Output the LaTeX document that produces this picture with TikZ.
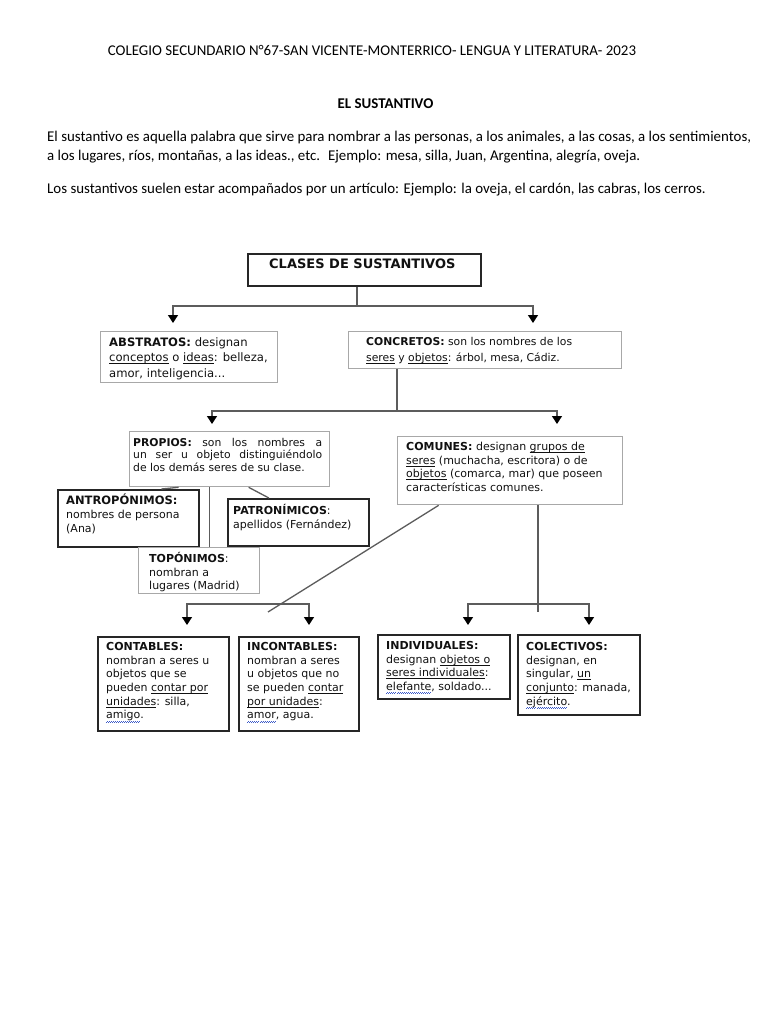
\documentclass[tikz,border=0pt]{standalone}
\usepackage{fontspec}
\setmainfont{Carlito}
\newfontfamily\comic{DejaVu Sans}
\usetikzlibrary{arrows.meta}

\definecolor{ink}{HTML}{111111}
\definecolor{linegray}{HTML}{5C5C5C}
\definecolor{boxdark}{HTML}{262626}
\definecolor{boxlight}{HTML}{A8A8A8}
\definecolor{spell}{HTML}{3C5AC8}

\newsavebox\ulbox
\newcommand\subr[1]{\sbox\ulbox{#1}\rlap{\rule[-2.2pt]{\wd\ulbox}{0.7pt}}\usebox\ulbox}
\newcommand\spellwave[1]{\sbox\ulbox{#1}\rlap{\color{spell}\hbox to \wd\ulbox{%
  \xleaders\hbox{\rule[-3.4pt]{1pt}{0.6pt}\rule[-2.6pt]{1pt}{0.6pt}}\hfil}}\usebox\ulbox}
\newcommand\diagfont{\comic\fontsize{11}{13.7}\selectfont}

\begin{document}
\begin{tikzpicture}[x=1pt, y=-1pt,
    conn/.style={draw=linegray, line width=1.3pt},
    arr/.style={conn, -{Triangle[width=10pt,length=8pt,color=black]}},
    darkbox/.style={draw=boxdark, line width=1.8pt, anchor=north west, inner sep=0pt},
    lightbox/.style={draw=boxlight, line width=1.3pt, anchor=north west, inner sep=0pt},
    boxtext/.style={anchor=north west, align=left, inner xsep=9pt, inner ysep=6pt, font=\diagfont, text=ink}
]
\fill[white] (0,0) rectangle (768,1024);
% --- Kopfzeile und Einleitung ---
\node[anchor=base, font=\fontsize{14.9}{17}\selectfont] (colegio) at (372,56)
  {COLEGIO SECUNDARIO N°67-SAN VICENTE-MONTERRICO- LENGUA Y LITERATURA- 2023};
\node[anchor=base, font=\bfseries\fontsize{14.9}{17}\selectfont] (titulo) at (385.5,109) {EL SUSTANTIVO};
\node[anchor=north west, align=left, inner sep=0pt, font=\fontsize{14.9}{19}\selectfont] (definicion) at (47,131)
  {El sustantivo es aquella palabra que sirve para nombrar a las personas, a los animales, a las cosas, a los sentimientos,\\
   a los lugares, ríos, montañas, a las ideas., etc.~ Ejemplo: mesa, silla, Juan, Argentina, alegría, oveja.};
\node[anchor=base west, inner sep=0pt, font=\fontsize{14.9}{17}\selectfont] (articulo) at (47,194)
  {Los sustantivos suelen estar acompañados por un artículo: Ejemplo: la oveja, el cardón, las cabras, los cerros.};

% --- Oberste Ebene ---
\node[darkbox, line width=2pt, minimum width=233pt, minimum height=32pt,
  label={[boxtext, inner xsep=22pt, inner ysep=6pt, font=\comic\bfseries\fontsize{13}{15}\selectfont]north west:{CLASES DE SUSTANTIVOS}}]
  (clases) at (247,253) {};
\node[lightbox, minimum width=177pt, minimum height=51pt,
  label={[boxtext, font=\comic\fontsize{11.6}{15.5}\selectfont]north west:{\textbf{ABSTRATOS:} designan\\
    \subr{conceptos} o \subr{ideas}: belleza,\\ amor, inteligencia...}}]
  (abstratos) at (100,331) {};
\node[lightbox, minimum width=273pt, minimum height=37pt,
  label={[boxtext, inner xsep=18pt, font=\comic\fontsize{10.8}{16.5}\selectfont]north west:{\textbf{CONCRETOS:} son los nombres de los\\
    \subr{seres} y \subr{objetos}: árbol, mesa, Cádiz.}}]
  (concretos) at (348,331) {};

% --- Propios und Comunes ---
\node[lightbox, minimum width=200pt, minimum height=55pt,
  label={[boxtext, inner xsep=4pt, inner ysep=7pt, text width=189pt, align=justify, font=\comic\fontsize{10.8}{12.3}\selectfont]north west:{\textbf{PROPIOS:} son los nombres a\linebreak
    un ser u objeto distinguiéndolo\linebreak de los demás seres de su clase.}}]
  (propios) at (129,431) {};
\node[lightbox, minimum width=225pt, minimum height=68pt,
  label={[boxtext]north west:{\textbf{COMUNES:} designan \subr{grupos de}\\
    \subr{seres} (muchacha, escritora) o de\\ \subr{objetos} (comarca, mar) que poseen\\ características comunes.}}]
  (comunes) at (397,436) {};

% --- Unterarten der Propios ---
\node[darkbox, minimum width=141pt, minimum height=57pt,
  label={[boxtext, inner ysep=5pt]north west:{{\bfseries\fontsize{11.5}{16.5}\selectfont ANTROPÓNIMOS:}\\
    nombres de persona\\ (Ana)}}]
  (antro) at (57,489) {};
\node[darkbox, minimum width=141pt, minimum height=47pt,
  label={[boxtext, inner xsep=6pt]north west:{\textbf{PATRONÍMICOS}:\\ apellidos (Fernández)}}]
  (patro) at (227,498) {};
\node[lightbox, minimum width=121pt, minimum height=46pt,
  label={[boxtext, inner xsep=11pt, inner ysep=5pt]north west:{\textbf{TOPÓNIMOS}:\\ nombran a\\ lugares (Madrid)}}]
  (topo) at (138,547) {};

% --- Unterarten der Comunes ---
\node[darkbox, minimum width=131pt, minimum height=94pt,
  label={[boxtext]north west:{\textbf{CONTABLES:}\\ nombran a seres u\\ objetos que se\\
    pueden \subr{contar por}\\ \subr{unidades}: silla,\\ \spellwave{amigo}.}}]
  (contables) at (97,636) {};
\node[darkbox, minimum width=120pt, minimum height=94pt,
  label={[boxtext]north west:{\textbf{INCONTABLES:}\\ nombran a seres\\ u objetos que no\\
    se pueden \subr{contar}\\ \subr{por unidades}:\\ \spellwave{amor}, agua.}}]
  (incontables) at (238,636) {};
\node[darkbox, minimum width=132pt, minimum height=64pt,
  label={[boxtext, inner ysep=7pt]north west:{\textbf{INDIVIDUALES:}\\ designan \subr{objetos o}\\
    \subr{seres individuales}:\\ \spellwave{elefante}, soldado...}}]
  (individuales) at (377,634) {};
\node[darkbox, minimum width=122pt, minimum height=80pt,
  label={[boxtext, inner ysep=8pt]north west:{\textbf{COLECTIVOS:}\\ designan, en\\ singular, \subr{un}\\
    \subr{conjunto}: manada,\\ \spellwave{ejército}.}}]
  (colectivos) at (517,634) {};

% --- Verbindungen: Clases ---
\coordinate (k1) at (357,306);
\coordinate (t1) at (173,323);
\coordinate (t2) at (533,323);
\draw[conn] (k1 |- clases.south) -- (k1);
\draw[arr] (k1) -| (t1);
\draw[arr] (k1) -| (t2);
% --- Verbindungen: Concretos ---
\coordinate (k2) at (397,411);
\coordinate (t3) at (212,424);
\coordinate (t4) at (557,424);
\draw[conn] (k2 |- concretos.south) -- (k2);
\draw[arr] (k2) -| (t3);
\draw[arr] (k2) -| (t4);
% --- Verbindungen: Propios ---
\draw[conn] ([xshift=-51pt]propios.south) -- ([xshift=33pt]antro.north);
\draw[conn] ([xshift=19pt]propios.south) -- ([xshift=-29.5pt]patro.north);
\draw[conn] ([xshift=-20pt]propios.south) -- ([xshift=10.5pt]topo.north);
% --- Verbindungen: Comunes ---
\coordinate (e3) at (268,612);
\coordinate (k3) at (281,604);
\coordinate (t5) at (187,625);
\coordinate (t6) at (309,625);
\draw[conn] ([xshift=-71.5pt]comunes.south) -- (e3);
\draw[arr] (k3) -| (t5);
\draw[arr] (k3) -| (t6);
\coordinate (e4) at (538,612);
\coordinate (k4) at (538,604);
\coordinate (t7) at (468,625);
\coordinate (t8) at (589,625);
\draw[conn] (e4 |- comunes.south) -- (e4);
\draw[arr] (k4) -| (t7);
\draw[arr] (k4) -| (t8);
\end{tikzpicture}
\end{document}
